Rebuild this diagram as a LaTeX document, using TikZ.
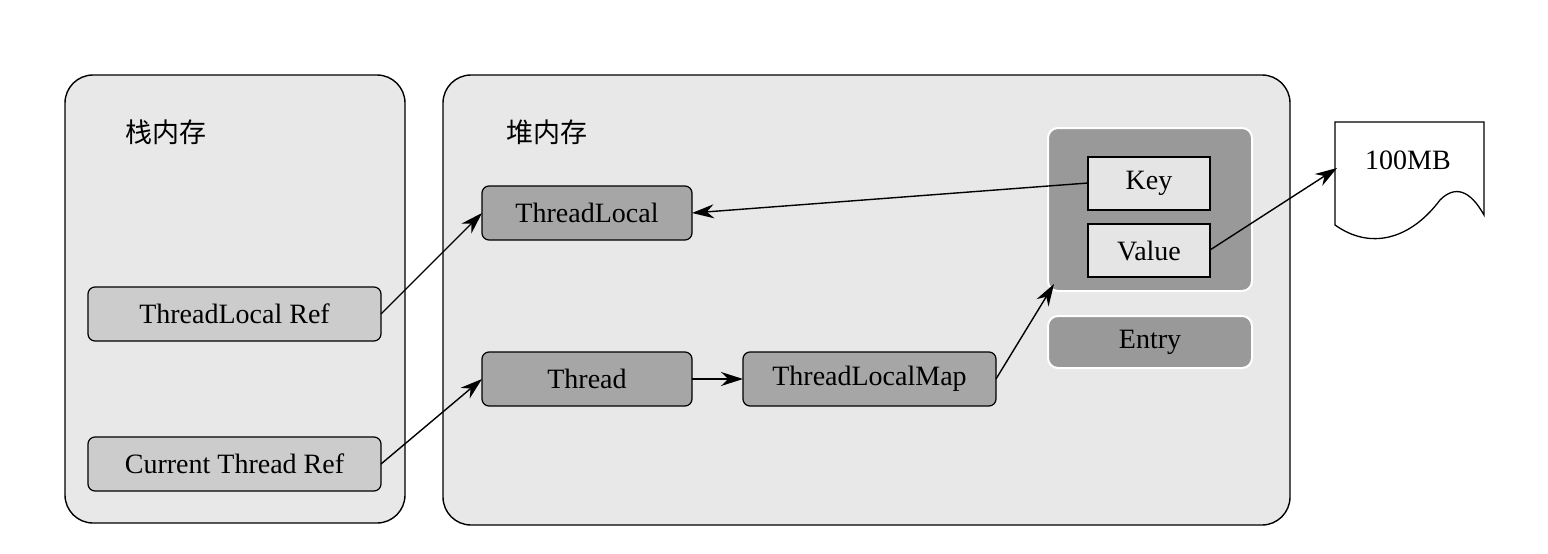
\documentclass[tikz,border=0pt]{standalone}
\usepackage{fontspec}
\setmainfont{Liberation Serif}
\newfontfamily\cjk{Noto Sans CJK SC}
\usetikzlibrary{arrows.meta}
\begin{document}
\begin{tikzpicture}[x=1pt,y=-1pt,
  panel/.style={draw=black,line width=1.4pt,fill=black!9,rounded corners=28pt},
  lbox/.style={draw=black,line width=1.2pt,fill=black!20,rounded corners=7pt,font=\fontsize{28}{30}\selectfont},
  dbox/.style={draw=black,line width=1.2pt,fill=black!35,rounded corners=7pt,font=\fontsize{28}{30}\selectfont},
  grp/.style={draw=white,line width=2pt,fill=black!40,rounded corners=10pt},
  kbox/.style={draw=black,line width=1.2pt,fill=black!10,font=\fontsize{28}{30}\selectfont},
  arr/.style={-{Stealth[length=22pt,width=14pt]},line width=1.4pt}]
\useasboundingbox[fill=white] (0,0) rectangle (1548,554);
\draw[panel] (65,75) rectangle (405,523);
\draw[panel] (443,75) rectangle (1290,525);
\node[font=\cjk\fontsize{27}{30}\selectfont] (stk) at (166,132) {栈内存};
\node[font=\cjk\fontsize{27}{30}\selectfont] (hp) at (547,132) {堆内存};
\draw[lbox] (88,287) rectangle node (tlr) {ThreadLocal Ref} (381,341);
\draw[lbox] (88,437) rectangle node (ctr) {Current Thread Ref} (381,491);
\draw[dbox] (482,186) rectangle node (tl) {ThreadLocal} (692,240);
\draw[dbox] (482,352) rectangle node (th) {Thread} (692,406);
\draw[dbox] (743,352) rectangle node (tlm) {ThreadLocalMap} (996,406);
\draw[grp] (1048,128) rectangle (1252,291);
\draw[grp] (1048,316) rectangle node[font=\fontsize{28}{30}\selectfont] (en) {Entry} (1252,368);
\draw[kbox] (1088,157) rectangle node (key) {Key} (1210,210);
\draw[kbox] (1088,224) rectangle node (val) {Value} (1210,277);
\draw[line width=1.3pt,fill=white] (1335,122) -- (1484,122) -- (1484,215)
  .. controls (1470,190) and (1455,185) .. (1440,200)
  .. controls (1410,240) and (1370,250) .. (1335,225) -- cycle;
\node[font=\fontsize{28}{30}\selectfont] (mb) at (1408,160) {100MB};
\coordinate (tlrE) at (381,314);
\coordinate (ctrE) at (381,464);
\coordinate (tlW) at (482,213);
\coordinate (tlE) at (692,213);
\coordinate (thW) at (482,379);
\coordinate (thE) at (692,379);
\coordinate (tlmW) at (743,379);
\coordinate (tlmE) at (996,379);
\coordinate (grpC) at (1054,284);
\coordinate (keyW) at (1088,183);
\coordinate (valE) at (1210,250);
\coordinate (mbW) at (1337,168);
\draw[arr] (tlrE) -- (tlW);
\draw[arr] (ctrE) -- (thW);
\draw[arr] (thE) -- (tlmW);
\draw[arr] (tlmE) -- (grpC);
\draw[arr] (keyW) -- (tlE);
\draw[arr] (valE) -- (mbW);
\end{tikzpicture}
\end{document}
